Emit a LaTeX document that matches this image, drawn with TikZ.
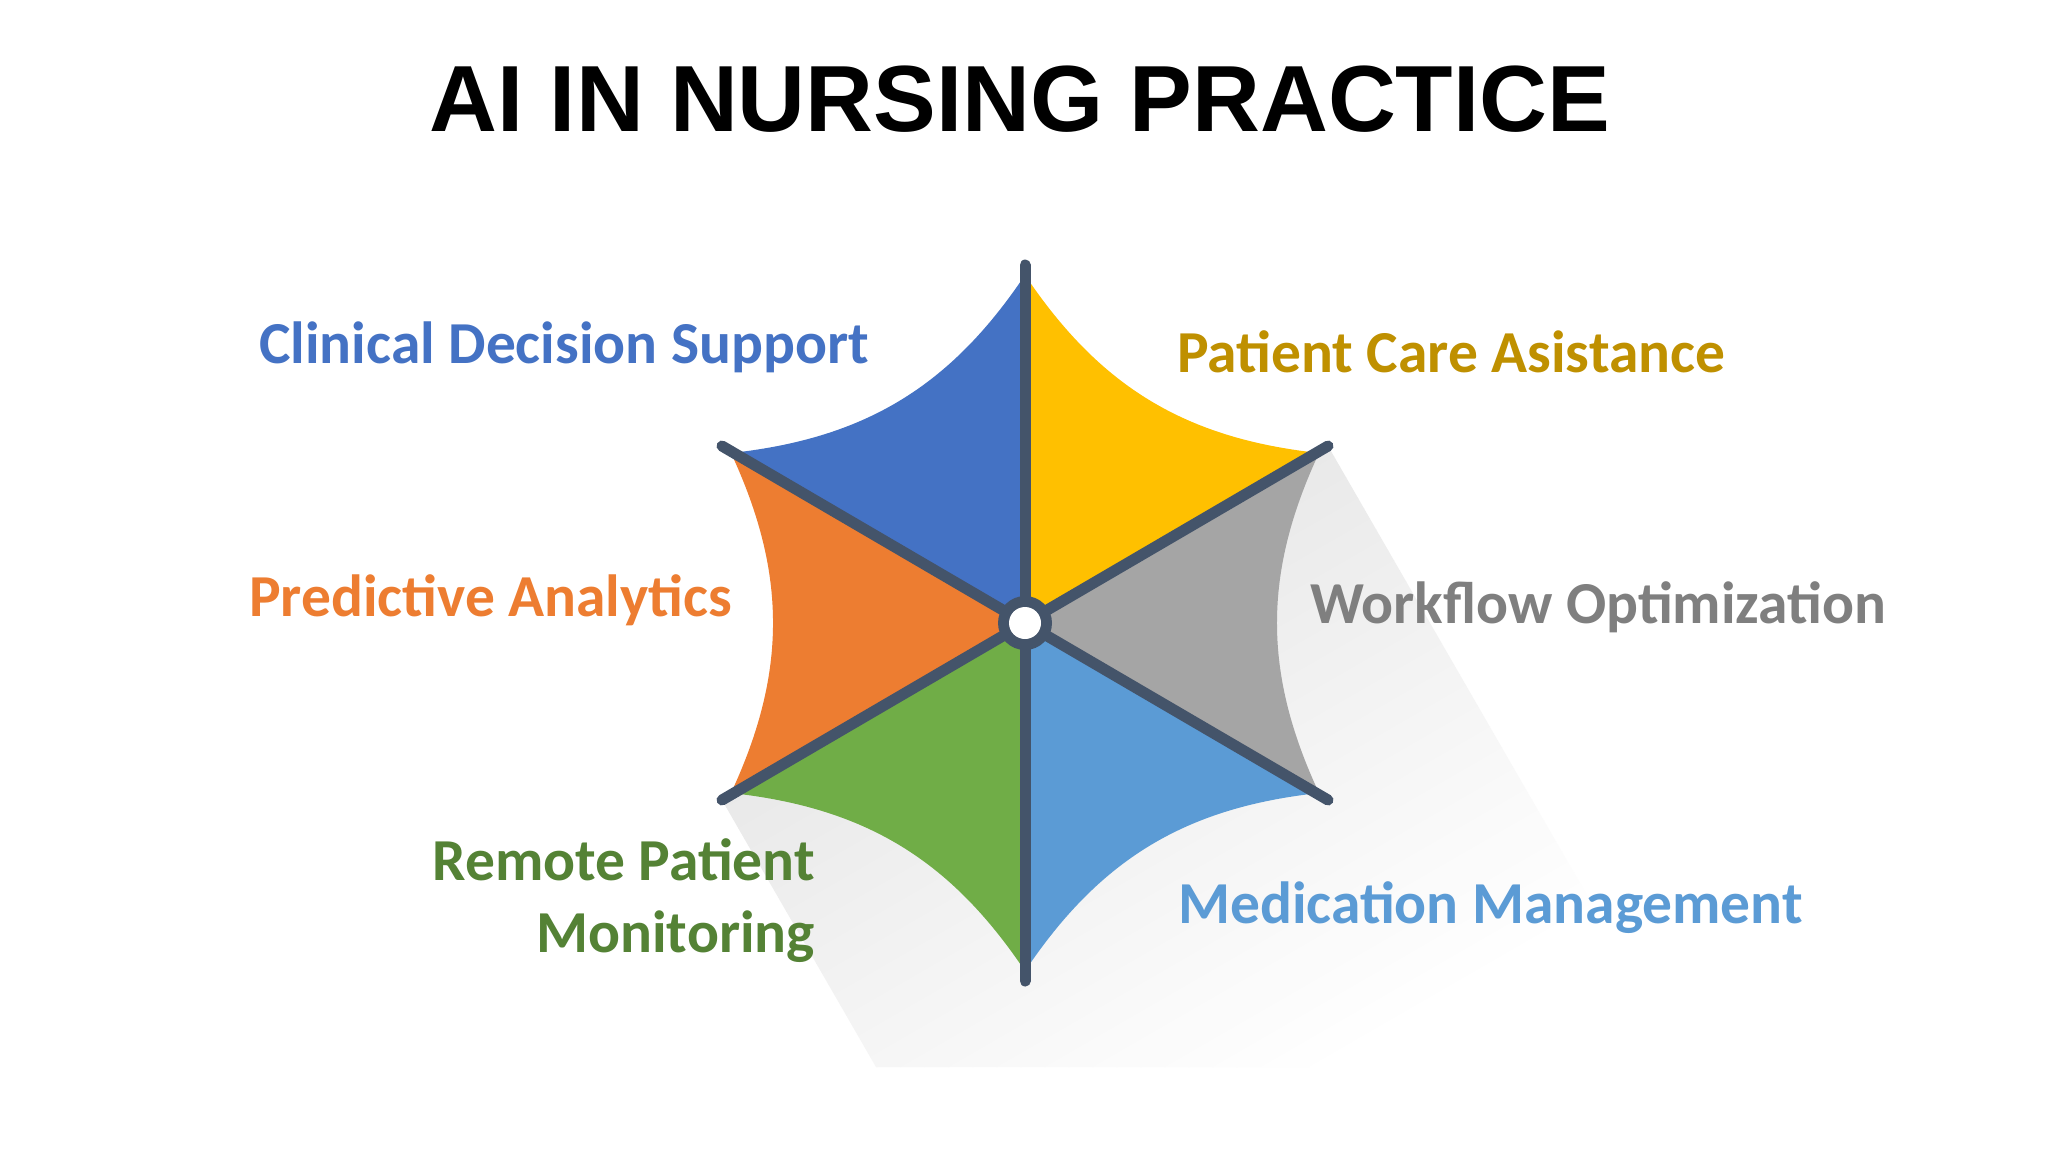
\documentclass[tikz,border=0pt]{standalone}
\usepackage{fontspec}
\setmainfont{Carlito}
\newfontfamily\titlefont{Liberation Sans}
\definecolor{cblue}{HTML}{4472C4}
\definecolor{cyellow}{HTML}{FFC000}
\definecolor{cgray}{HTML}{A5A5A5}
\definecolor{clblue}{HTML}{5B9BD5}
\definecolor{cgreen}{HTML}{70AD47}
\definecolor{corange}{HTML}{ED7D31}
\definecolor{cspoke}{HTML}{44546A}
\definecolor{tgold}{HTML}{BF9000}
\definecolor{tgray}{HTML}{7F7F7F}
\definecolor{tgreen}{HTML}{548235}
\begin{document}
\begin{tikzpicture}[x=1pt,y=1pt,
  lbl/.style={inner sep=0pt, font=\bfseries\fontsize{59.5}{72}\selectfont},
  spokeline/.style={draw=cspoke, line width=11pt, line cap=round},
  petal/.style={bend left=25}]
\fill[white] (0,0) rectangle (2048,-1152);
\useasboundingbox (0,0) rectangle (2048,-1152);
% coordinates
\coordinate (O) at (1025,-623);
\coordinate (fT) at (1025,-275);
\coordinate (fUL) at (731,-453);
\coordinate (fLL) at (731,-793);
\coordinate (fB) at (1025,-971);
\coordinate (fLR) at (1319,-793);
\coordinate (fUR) at (1319,-453);
\coordinate (sT) at (1025,-265);
\coordinate (sUL) at (722,-446);
\coordinate (sLL) at (722,-800);
\coordinate (sB) at (1025,-981);
\coordinate (sLR) at (1328,-800);
\coordinate (sUR) at (1328,-446);
\coordinate (shR) at (1686,-1067);
\coordinate (shL) at (876,-1067);
% shadow
\begin{scope}
  \clip (sUR) -- (shR) -- (shL) -- (sLL) -- (O) -- cycle;
  \begin{scope}[shift={(sUR)}, rotate=-60]
    \foreach \i in {0,...,44} {
      \pgfmathsetmacro\c{8.5*(1-\i/44)}
      \fill[black!\c] (\i*12,-1300) rectangle (\i*12+12.6,1300);
    }
  \end{scope}
\end{scope}
% petals
\fill[cblue] (O) -- (fT) to[petal] (fUL) -- cycle;
\fill[corange] (O) -- (fUL) to[petal] (fLL) -- cycle;
\fill[cgreen] (O) -- (fLL) to[petal] (fB) -- cycle;
\fill[clblue] (O) -- (fB) to[petal] (fLR) -- cycle;
\fill[cgray] (O) -- (fLR) to[petal] (fUR) -- cycle;
\fill[cyellow] (O) -- (fUR) to[petal] (fT) -- cycle;
% spokes
\foreach \e in {sT,sUL,sLL,sB,sLR,sUR} { \draw[spokeline] (O) -- (\e); }
\node[circle, fill=cspoke, minimum size=54pt, inner sep=0pt] (hub) at (O) {};
\node[circle, fill=white, minimum size=32pt, inner sep=0pt] (hubin) at (O) {};
% title
\node[inner sep=0pt, anchor=base, font=\titlefont\bfseries\fontsize{94}{100}\selectfont] (title) at (1020,-131) {AI IN NURSING PRACTICE};
% labels
\node[lbl, text=cblue, anchor=base west] (cds) at (259,-363) {Clinical Decision Support};
\node[lbl, text=tgold, anchor=base west] (pca) at (1177,-372) {Patient Care Asistance};
\node[lbl, text=corange, anchor=base west] (pa) at (249,-616) {Predictive Analytics};
\node[lbl, text=tgray, anchor=base west] (wo) at (1310,-623) {Workflow Optimization};
\node[lbl, text=tgreen, anchor=base east] (rpm1) at (815,-880) {Remote Patient};
\node[lbl, text=tgreen, anchor=base east] (rpm2) at (815,-952) {Monitoring};
\node[lbl, text=clblue, anchor=base west] (mm) at (1178,-923) {Medication Management};
\end{tikzpicture}
\end{document}
